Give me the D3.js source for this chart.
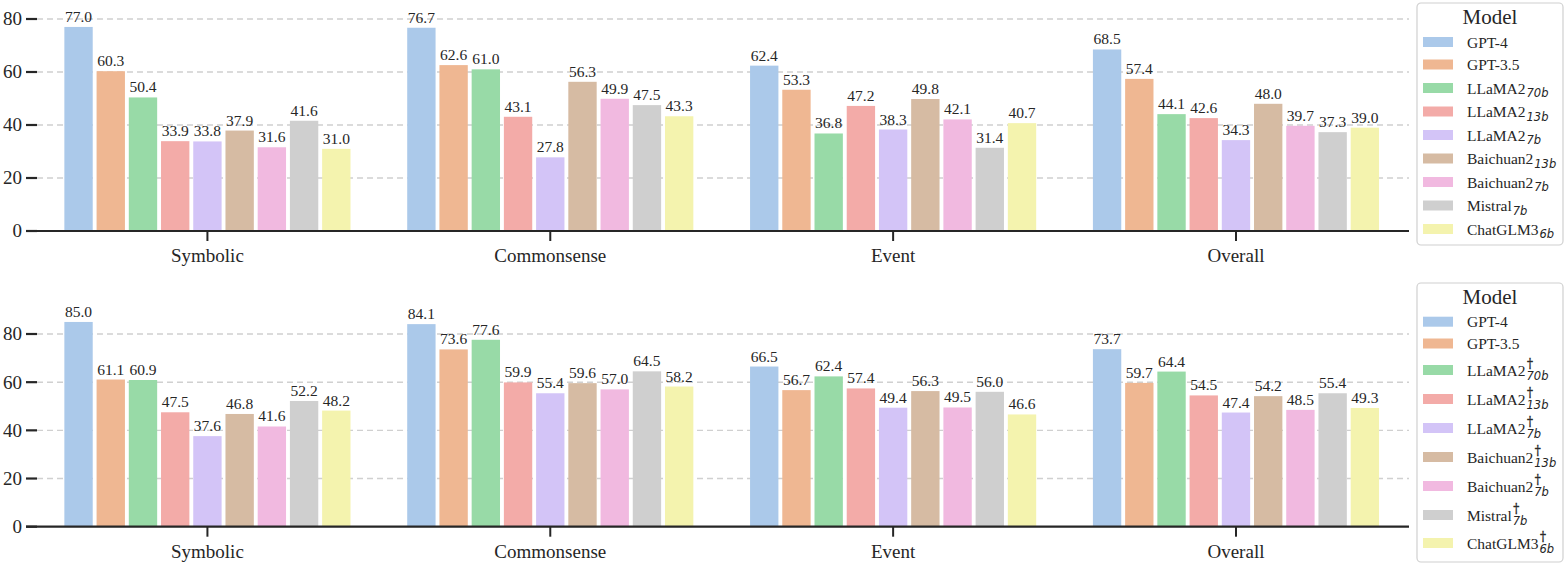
<!DOCTYPE html>
<html>
<head>
<meta charset="utf-8">
<script src="https://cdn.jsdelivr.net/npm/d3@7"></script>
<style>
  body { margin: 0; background: #fff; }
  text { font-family: "Liberation Serif", "Times New Roman", serif; fill: #262626; }
  .sub { font-family: "DejaVu Sans", sans-serif; font-style: oblique; }
  .dag { font-family: "DejaVu Serif", serif; }
</style>
</head>
<body>
<script>
// Data
const categories = ["Symbolic", "Commonsense", "Event", "Overall"];
const modelBase = ["GPT-4", "GPT-3.5", "LLaMA2", "LLaMA2", "LLaMA2", "Baichuan2", "Baichuan2", "Mistral", "ChatGLM3"];
const modelSub = ["", "", "70b", "13b", "7b", "13b", "7b", "7b", "6b"];
const yTicks = [0, 20, 40, 60, 80];
const colors = ["#abc9ea", "#efb792", "#98daa7", "#f3aba8", "#d3c4f7", "#d6bba3", "#f1b9e0", "#cfcfcf", "#f4f3ae"];

// rows = models, columns = categories
const topValues = [
  [77.0, 76.7, 62.4, 68.5],
  [60.3, 62.6, 53.3, 57.4],
  [50.4, 61.0, 36.8, 44.1],
  [33.9, 43.1, 47.2, 42.6],
  [33.8, 27.8, 38.3, 34.3],
  [37.9, 56.3, 49.8, 48.0],
  [31.6, 49.9, 42.1, 39.7],
  [41.6, 47.5, 31.4, 37.3],
  [31.0, 43.3, 40.7, 39.0]
];
const bottomValues = [
  [85.0, 84.1, 66.5, 73.7],
  [61.1, 73.6, 56.7, 59.7],
  [60.9, 77.6, 62.4, 64.4],
  [47.5, 59.9, 57.4, 54.5],
  [37.6, 55.4, 49.4, 47.4],
  [46.8, 59.6, 56.3, 54.2],
  [41.6, 57.0, 49.5, 48.5],
  [52.2, 64.5, 56.0, 55.4],
  [48.2, 58.2, 46.6, 49.3]
];

const width = 1565, height = 564;
const svg = d3.select("body").append("svg").attr("width", width).attr("height", height);

const axisLeft = 26, axisRight = 1409;
const xScale = d3.scaleBand().domain(categories).range([36, 1407.4]).padding(0);
const inner = d3.scaleBand().domain(d3.range(modelBase.length))
  .range([xScale.bandwidth() / 2 - 145, xScale.bandwidth() / 2 + 145])
  .paddingInner(0.12).paddingOuter(0.06);

function drawPanel(values, yBase, yTop, legend, dagger) {
  const yScale = d3.scaleLinear().domain([0, 80]).range([yBase, yTop]);
  const g = svg.append("g");

  // grid
  g.selectAll(".grid").data(yTicks.filter(d => d > 0)).enter().append("line")
    .attr("x1", 37).attr("x2", axisRight)
    .attr("y1", d => yScale(d)).attr("y2", d => yScale(d))
    .attr("stroke", "#d0d0d0").attr("stroke-width", 1.4).attr("stroke-dasharray", "6,4");

  // y ticks
  g.selectAll(".ytick").data(yTicks).enter().append("line")
    .attr("x1", axisLeft).attr("x2", 37)
    .attr("y1", d => yScale(d)).attr("y2", d => yScale(d))
    .attr("stroke", "#262626").attr("stroke-width", 2.2);
  g.selectAll(".ylab").data(yTicks).enter().append("text")
    .attr("x", 22).attr("y", d => yScale(d)).attr("dy", "0.34em")
    .attr("text-anchor", "end").attr("font-size", 19).text(d => d);

  // bars
  const groups = g.selectAll(".cat").data(categories).enter().append("g")
    .attr("transform", d => `translate(${xScale(d)},0)`);
  groups.each(function (cat, ci) {
    const cg = d3.select(this);
    const rows = values.map((row, mi) => ({ mi, v: row[ci] }));
    cg.selectAll("rect").data(rows).enter().append("rect")
      .attr("x", d => inner(d.mi)).attr("width", inner.bandwidth())
      .attr("y", d => yScale(d.v)).attr("height", d => yBase - yScale(d.v))
      .attr("fill", d => colors[d.mi]);
    cg.selectAll(".val").data(rows).enter().append("text")
      .attr("x", d => inner(d.mi) + inner.bandwidth() / 2)
      .attr("y", d => yScale(d.v) - 5)
      .attr("text-anchor", "middle").attr("font-size", 15.5)
      .text(d => d.v.toFixed(1));
  });

  // x axis
  g.append("line").attr("x1", axisLeft).attr("x2", axisRight)
    .attr("y1", yBase).attr("y2", yBase).attr("stroke", "#262626").attr("stroke-width", 2.2);
  g.selectAll(".xtick").data(categories).enter().append("line")
    .attr("x1", d => xScale(d) + xScale.bandwidth() / 2).attr("x2", d => xScale(d) + xScale.bandwidth() / 2)
    .attr("y1", yBase).attr("y2", yBase + 10)
    .attr("stroke", "#262626").attr("stroke-width", 2);
  g.selectAll(".xlab").data(categories).enter().append("text")
    .attr("x", d => xScale(d) + xScale.bandwidth() / 2).attr("y", yBase + 31)
    .attr("text-anchor", "middle").attr("font-size", 19).text(d => d);

  // legend
  const lg = svg.append("g");
  lg.append("rect").attr("x", 1417).attr("y", legend.top).attr("width", 146)
    .attr("height", legend.bottom - legend.top).attr("rx", 4)
    .attr("fill", "#fff").attr("stroke", "#d0d0d0").attr("stroke-width", 1.2);
  lg.append("text").attr("x", 1490).attr("y", legend.title + 7)
    .attr("text-anchor", "middle").attr("font-size", 21).text("Model");
  modelBase.forEach((name, i) => {
    const cy = legend.rows[i];
    lg.append("rect").attr("x", 1423).attr("y", cy - 5).attr("width", 30).attr("height", 10)
      .attr("fill", colors[i]);
    const t = lg.append("text").attr("x", 1467).attr("y", cy + 5.5).attr("font-size", 15.5).text(name);
    const w = t.node().getComputedTextLength();
    if (modelSub[i]) {
      lg.append("text").attr("class", "sub").attr("x", 1467 + w + 1).attr("y", cy + (dagger ? 10 : 9))
        .attr("font-size", 11.5).text(modelSub[i]);
      if (dagger) {
        lg.append("text").attr("class", "dag").attr("x", 1467 + w + 1.5).attr("y", cy - 2.5)
          .attr("font-size", 12).attr("stroke", "#262626").attr("stroke-width", 0.3)
          .text("\u2020");
      }
    }
  });
}

drawPanel(topValues, 231, 19, {
  top: 3, bottom: 245, title: 17,
  rows: [42, 64.5, 88, 111.5, 135, 158.5, 182, 205.5, 229]
}, false);

drawPanel(bottomValues, 526.7, 334, {
  top: 283, bottom: 562, title: 297,
  rows: [321.7, 343.5, 370, 399, 428, 457, 486, 515, 543]
}, true);
</script>
</body>
</html>
